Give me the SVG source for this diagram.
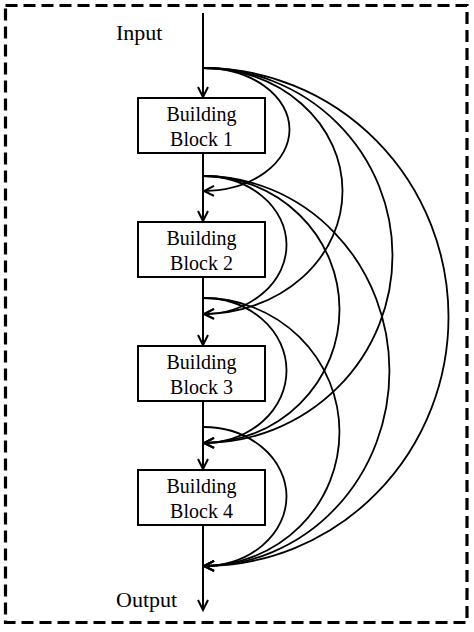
<svg xmlns="http://www.w3.org/2000/svg" width="474" height="632" viewBox="0 0 474 632">
<style>
.frame{fill:none;stroke:#000;stroke-width:3.2;stroke-dasharray:12 6}
.box{fill:#fff;stroke:#000;stroke-width:2}
.lbl{font-family:"Liberation Serif","Times New Roman",serif;font-size:20px;fill:#000;text-anchor:middle}
.io{font-family:"Liberation Serif","Times New Roman",serif;font-size:22px;fill:#000}
.main{fill:none;stroke:#000;stroke-width:2;marker-end:url(#arr)}
.arc{fill:none;stroke:#000;stroke-width:1.8;marker-end:url(#arr)}
</style>
<defs>
<marker id="arr" viewBox="-12 -7 14 14" refX="0" refY="0" markerWidth="14" markerHeight="14" markerUnits="userSpaceOnUse" orient="auto">
<path d="M-10,-5 L0,0 L-10,5" fill="none" stroke="#000" stroke-width="2"/>
</marker>
</defs>
<rect class="frame" x="5.5" y="5.5" width="461.5" height="617"/>
<g id="connectors">
<path class="main" d="M203,13 V97"/>
<path class="main" d="M203,153 V221"/>
<path class="main" d="M203,277 V345"/>
<path class="main" d="M203,401 V469"/>
<path class="main" d="M203,525 V610"/>
<path class="arc" d="M203,68 A86,61.5 0 0 1 204,191"/>
<path class="arc" d="M203,68 A139,123 0 0 1 204,314"/>
<path class="arc" d="M203,68 A189,187.5 0 0 1 204,443"/>
<path class="arc" d="M203,68 A245,249 0 0 1 204,566"/>
<path class="arc" d="M203,176 A83,69 0 0 1 204,314"/>
<path class="arc" d="M203,176 A136,133.5 0 0 1 204,443"/>
<path class="arc" d="M203,176 A186,195 0 0 1 204,566"/>
<path class="arc" d="M203,298 A83,72.5 0 0 1 204,443"/>
<path class="arc" d="M203,298 A136,134 0 0 1 204,566"/>
<path class="arc" d="M203,427 A83,69.5 0 0 1 204,566"/>
</g>
<g id="input"><text class="io" x="116" y="40">Input</text></g>
<g id="block1"><rect class="box" x="138" y="98" width="127" height="55"/><text class="lbl" x="201.5" y="121">Building</text><text class="lbl" x="201.5" y="146">Block 1</text></g>
<g id="block2"><rect class="box" x="138" y="222" width="127" height="55"/><text class="lbl" x="201.5" y="245">Building</text><text class="lbl" x="201.5" y="270">Block 2</text></g>
<g id="block3"><rect class="box" x="138" y="346" width="127" height="55"/><text class="lbl" x="201.5" y="369">Building</text><text class="lbl" x="201.5" y="394">Block 3</text></g>
<g id="block4"><rect class="box" x="138" y="470" width="127" height="55"/><text class="lbl" x="201.5" y="493">Building</text><text class="lbl" x="201.5" y="518">Block 4</text></g>
<g id="output"><text class="io" x="116" y="607">Output</text></g>
</svg>
